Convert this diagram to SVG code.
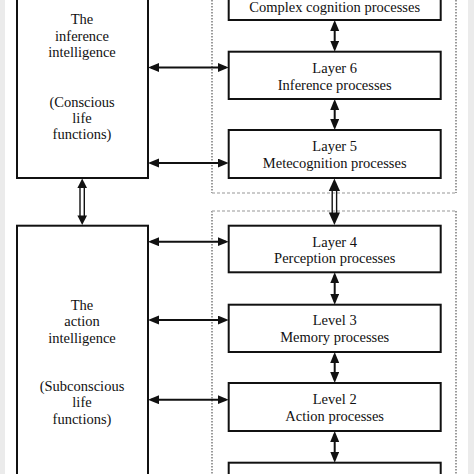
<svg xmlns="http://www.w3.org/2000/svg" width="474" height="474" viewBox="0 0 474 474">
<style>
.box{fill:#fff;stroke:#111;stroke-width:2}
.t{font-family:"Liberation Serif","Times New Roman",serif;font-size:14.5px;fill:#111;text-anchor:middle}
.ar{stroke:#111;stroke-width:2;fill:none;marker-start:url(#ah);marker-end:url(#ah)}
.dl{stroke:#111;stroke-width:1.4;fill:none}
.gv{stroke:#666;stroke-width:1.3;stroke-dasharray:1.5 1.5;fill:none}
.gh{stroke:#bbb;stroke-width:1.3;stroke-dasharray:3 2;fill:none}
</style>
<defs>
<marker id="ah" markerUnits="userSpaceOnUse" markerWidth="11" markerHeight="10" refX="8" refY="4.5" orient="auto-start-reverse">
<path d="M0,0 L11,4.5 L0,9 z" fill="#111"/>
</marker>
</defs>
<rect x="0" y="0" width="474" height="474" fill="#fff"/>
<rect x="0" y="0" width="5" height="474" fill="#ebebeb"/>
<rect x="468" y="0" width="6" height="474" fill="#ebebeb"/>

<g id="group-upper">
<line class="gv" x1="212" y1="0" x2="212" y2="193"/>
<line class="gv" x1="456" y1="0" x2="456" y2="193"/>
<line class="gh" x1="212" y1="193" x2="456" y2="193"/>
</g>
<g id="group-lower">
<line class="gv" x1="212" y1="211" x2="212" y2="474"/>
<line class="gv" x1="456" y1="211" x2="456" y2="474"/>
<line class="gh" x1="212" y1="211" x2="456" y2="211"/>
</g>

<g id="inference-intelligence">
<rect class="box" x="17" y="-10" width="131" height="188"/>
<text class="t" x="82" y="24">The</text>
<text class="t" x="82" y="40.5">inference</text>
<text class="t" x="82" y="57">intelligence</text>
<text class="t" x="82" y="106.5">(Conscious</text>
<text class="t" x="82" y="122.5">life</text>
<text class="t" x="82" y="138.5">functions)</text>
</g>
<g id="action-intelligence">
<rect class="box" x="17" y="225.7" width="131" height="260"/>
<text class="t" x="82" y="310">The</text>
<text class="t" x="82" y="326">action</text>
<text class="t" x="82" y="342.5">intelligence</text>
<text class="t" x="82" y="390.5">(Subconscious</text>
<text class="t" x="82" y="407">life</text>
<text class="t" x="82" y="423.5">functions)</text>
</g>

<g id="layer7">
<rect class="box" x="228.7" y="-27" width="212" height="47"/>
<text class="t" x="334.7" y="11.5">Complex cognition processes</text>
</g>
<g id="layer6">
<rect class="box" x="228.7" y="51.7" width="212" height="47.3"/>
<text class="t" x="334.7" y="72.5">Layer 6</text>
<text class="t" x="334.7" y="89.5">Inference processes</text>
</g>
<g id="layer5">
<rect class="box" x="228.7" y="130" width="212" height="48"/>
<text class="t" x="334.7" y="151">Layer 5</text>
<text class="t" x="334.7" y="168">Metecognition processes</text>
</g>
<g id="layer4">
<rect class="box" x="228.7" y="225.7" width="212" height="46.6"/>
<text class="t" x="334.7" y="246.5">Layer 4</text>
<text class="t" x="334.7" y="263">Perception processes</text>
</g>
<g id="level3">
<rect class="box" x="228.7" y="304.7" width="212" height="47.3"/>
<text class="t" x="334.7" y="325">Level 3</text>
<text class="t" x="334.7" y="342">Memory processes</text>
</g>
<g id="level2">
<rect class="box" x="228.7" y="383" width="212" height="48"/>
<text class="t" x="334.7" y="403.5">Level 2</text>
<text class="t" x="334.7" y="420.5">Action processes</text>
</g>
<g id="level1">
<rect class="box" x="228.7" y="462.7" width="212" height="30"/>
</g>

<g id="connectors">
<line class="ar" x1="151" y1="67.5" x2="225.7" y2="67.5"/>
<line class="ar" x1="151" y1="163" x2="225.7" y2="163"/>
<line class="ar" x1="151" y1="241.7" x2="225.7" y2="241.7"/>
<line class="ar" x1="151" y1="320" x2="225.7" y2="320"/>
<line class="ar" x1="151" y1="399.7" x2="225.7" y2="399.7"/>

<line class="ar" x1="334.7" y1="23" x2="334.7" y2="48.7"/>
<line class="ar" x1="334.7" y1="102" x2="334.7" y2="127"/>
<line class="ar" x1="334.7" y1="275.3" x2="334.7" y2="301.7"/>
<line class="ar" x1="334.7" y1="355" x2="334.7" y2="380"/>
<line class="ar" x1="334.7" y1="434" x2="334.7" y2="459.7"/>

<g id="double-left">
<line class="dl" x1="80" y1="186" x2="80" y2="217"/>
<line class="dl" x1="84.3" y1="186" x2="84.3" y2="217"/>
<path d="M82.2,178.5 L87,188 L77.4,188 z" fill="#111"/>
<path d="M82.2,225 L87,215.5 L77.4,215.5 z" fill="#111"/>
</g>
<g id="double-right">
<line class="dl" x1="332.2" y1="188" x2="332.2" y2="216"/>
<line class="dl" x1="336.6" y1="188" x2="336.6" y2="216"/>
<path d="M334.4,178.5 L340,191 L328.8,191 z" fill="#111"/>
<path d="M334.4,225 L340,212.5 L328.8,212.5 z" fill="#111"/>
</g>
</g>
</svg>
